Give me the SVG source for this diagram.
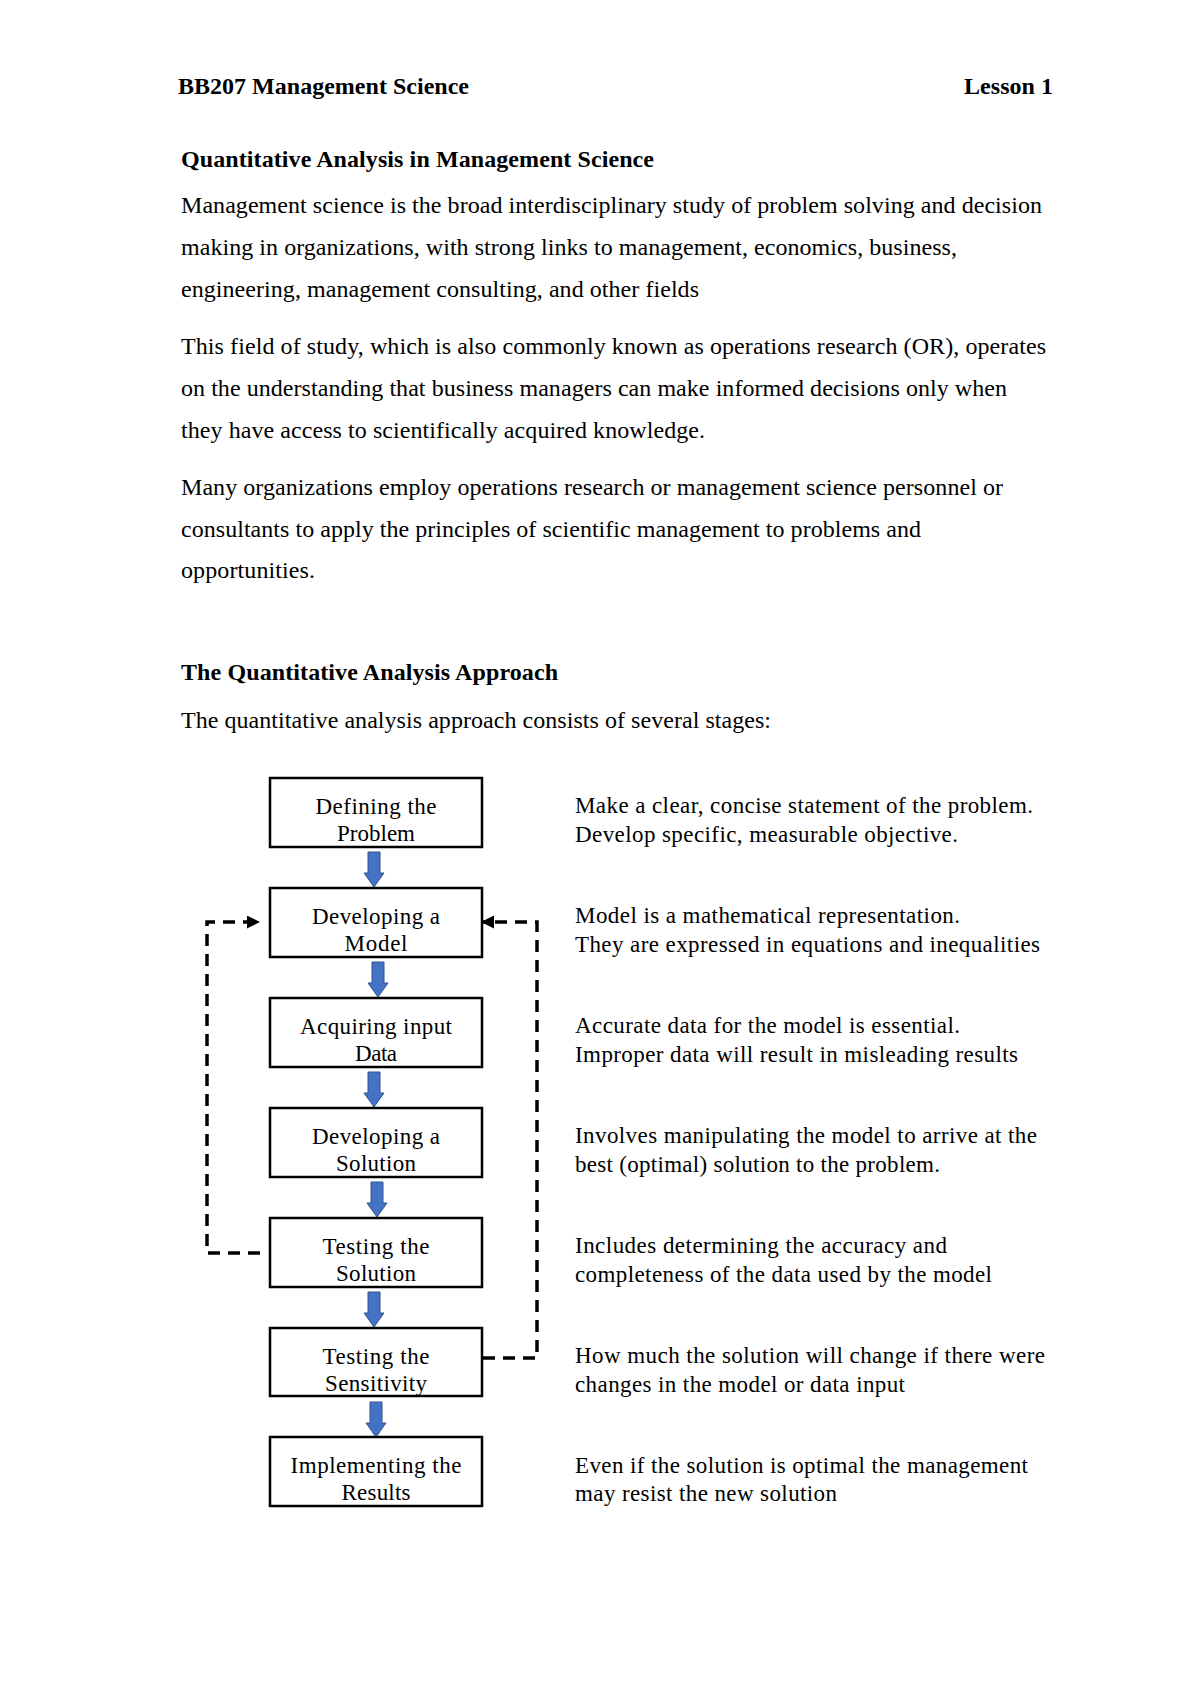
<svg xmlns="http://www.w3.org/2000/svg" xmlns:xlink="http://www.w3.org/1999/xlink" width="1200" height="1696" viewBox="0 0 1200 1696">
<style>
text { font-family: "Liberation Serif", "Times New Roman", serif; fill: #000; }
.b { font-weight: bold; font-size: 24px; }
.p { font-size: 24px; }
.d { font-size: 23px; }
.n { font-size: 23px; text-anchor: middle; }
.box { fill: #fff; stroke: #000; stroke-width: 2.5; }
.blk { fill: #4472C4; stroke: #2F528F; stroke-width: 1; }
.dash { fill: none; stroke: #000; stroke-width: 3.5; stroke-dasharray: 12 8; }
</style>
<defs>
<path id="blk" class="blk" d="M -6 0 H 6 V 21 H 10 L 0 35 L -10 21 H -6 Z"/>
<marker id="ah" markerUnits="userSpaceOnUse" markerWidth="16" markerHeight="16" refX="13" refY="6.5" orient="auto">
<path d="M 0 0 L 13 6.5 L 0 13 Z" fill="#000"/>
</marker>
</defs>
<rect width="1200" height="1696" fill="#fff"/>

<g id="page-text">
<text class="b" x="178" y="94" textLength="291">BB207 Management Science</text>
<text class="b" x="964" y="94" textLength="89">Lesson 1</text>
<text class="b" x="181" y="167" textLength="473">Quantitative Analysis in Management Science</text>
<text class="p" x="181" y="213" textLength="861">Management science is the broad interdisciplinary study of problem solving and decision</text>
<text class="p" x="181" y="255" textLength="776">making in organizations, with strong links to management, economics, business,</text>
<text class="p" x="181" y="297" textLength="518">engineering, management consulting, and other fields</text>
<text class="p" x="181" y="354" textLength="865">This field of study, which is also commonly known as operations research (OR), operates</text>
<text class="p" x="181" y="396" textLength="826">on the understanding that business managers can make informed decisions only when</text>
<text class="p" x="181" y="438" textLength="524">they have access to scientifically acquired knowledge.</text>
<text class="p" x="181" y="495" textLength="822">Many organizations employ operations research or management science personnel or</text>
<text class="p" x="181" y="537" textLength="740">consultants to apply the principles of scientific management to problems and</text>
<text class="p" x="181" y="578" textLength="134">opportunities.</text>
<text class="b" x="181" y="680" textLength="377">The Quantitative Analysis Approach</text>
<text class="p" x="181" y="728" textLength="590">The quantitative analysis approach consists of several stages:</text>
</g>

<g id="connectors">
<use xlink:href="#blk" x="374" y="852"/>
<use xlink:href="#blk" x="378" y="962"/>
<use xlink:href="#blk" x="374" y="1072"/>
<use xlink:href="#blk" x="377" y="1182"/>
<use xlink:href="#blk" x="374" y="1292"/>
<use xlink:href="#blk" x="376" y="1402"/>
<path class="dash" d="M 260 1253 H 207 V 922 H 260" marker-end="url(#ah)"/>
<path class="dash" d="M 483 1358 H 537 V 922 H 481" marker-end="url(#ah)"/>
</g>

<g id="node-define">
<rect class="box" x="270" y="778" width="212" height="69"/>
<text class="n" x="376" y="814" textLength="121">Defining the</text>
<text class="n" x="376" y="841" textLength="78">Problem</text>
</g>
<g id="node-model">
<rect class="box" x="270" y="888" width="212" height="69"/>
<text class="n" x="376" y="924" textLength="128">Developing a</text>
<text class="n" x="376" y="951" textLength="63">Model</text>
</g>
<g id="node-data">
<rect class="box" x="270" y="998" width="212" height="69"/>
<text class="n" x="376" y="1034" textLength="152">Acquiring input</text>
<text class="n" x="376" y="1061" textLength="42">Data</text>
</g>
<g id="node-solution">
<rect class="box" x="270" y="1108" width="212" height="69"/>
<text class="n" x="376" y="1144" textLength="128">Developing a</text>
<text class="n" x="376" y="1171" textLength="80">Solution</text>
</g>
<g id="node-test-solution">
<rect class="box" x="270" y="1218" width="212" height="69"/>
<text class="n" x="376" y="1254" textLength="107">Testing the</text>
<text class="n" x="376" y="1281" textLength="80">Solution</text>
</g>
<g id="node-sensitivity">
<rect class="box" x="270" y="1328" width="212" height="68"/>
<text class="n" x="376" y="1364" textLength="107">Testing the</text>
<text class="n" x="376" y="1391" textLength="102">Sensitivity</text>
</g>
<g id="node-implement">
<rect class="box" x="270" y="1437" width="212" height="69"/>
<text class="n" x="376" y="1473" textLength="171">Implementing the</text>
<text class="n" x="376" y="1500" textLength="69">Results</text>
</g>

<g id="descriptions">
<text class="d" x="575" y="813" textLength="458">Make a clear, concise statement of the problem.</text>
<text class="d" x="575" y="842" textLength="383">Develop specific, measurable objective.</text>
<text class="d" x="575" y="923" textLength="385">Model is a mathematical representation.</text>
<text class="d" x="575" y="952" textLength="465">They are expressed in equations and inequalities</text>
<text class="d" x="575" y="1033" textLength="385">Accurate data for the model is essential.</text>
<text class="d" x="575" y="1062" textLength="443">Improper data will result in misleading results</text>
<text class="d" x="575" y="1143" textLength="462">Involves manipulating the model to arrive at the</text>
<text class="d" x="575" y="1172" textLength="365">best (optimal) solution to the problem.</text>
<text class="d" x="575" y="1253" textLength="372">Includes determining the accuracy and</text>
<text class="d" x="575" y="1282" textLength="417">completeness of the data used by the model</text>
<text class="d" x="575" y="1363" textLength="470">How much the solution will change if there were</text>
<text class="d" x="575" y="1392" textLength="330">changes in the model or data input</text>
<text class="d" x="575" y="1473" textLength="453">Even if the solution is optimal the management</text>
<text class="d" x="575" y="1501" textLength="262">may resist the new solution</text>
</g>
</svg>
